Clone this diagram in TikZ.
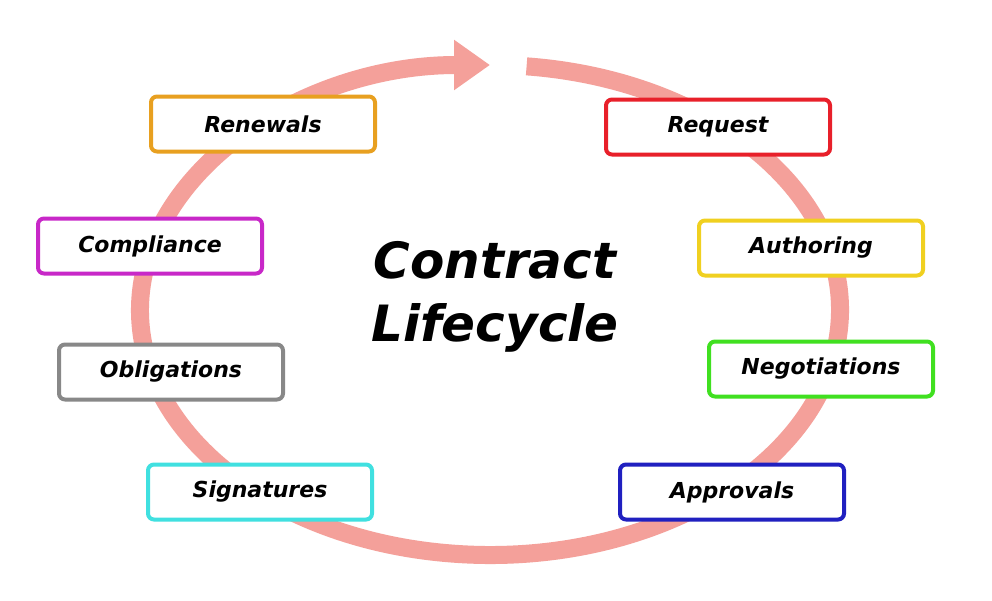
\documentclass[tikz,border=0pt]{standalone}
\usepackage{fontspec}
\setmainfont{DejaVu Sans}
\usetikzlibrary{arrows.meta}
\definecolor{ring}{HTML}{F4A09A}
\begin{document}
\begin{tikzpicture}[x=1pt,y=-1pt,
  lab/.style={draw, line width=4pt, rounded corners=6pt, fill=white, minimum width=224pt, minimum height=55pt, font=\fontsize{22}{26}\selectfont\bfseries\itshape},
  ttl/.style={font=\fontsize{50}{58}\selectfont\bfseries\itshape}]
\useasboundingbox (0,0) rectangle (992,600);
\fill[white] (0,0) rectangle (992,600);
\draw[ring, line width=18pt, -{Triangle[width=48pt,length=36pt]}] (490,310) ++(-84:350 and 245) arc[start angle=-84, end angle=270, x radius=350, y radius=245];
\node[lab, draw={rgb,255:red,232;green,160;blue,32}] (ren) at (263,124) {Renewals};
\node[lab, draw={rgb,255:red,232;green,32;blue,42}] (req) at (718,127) {Request};
\node[lab, draw={rgb,255:red,200;green,40;blue,200}] (com) at (150,246) {Compliance};
\node[lab, draw={rgb,255:red,240;green,208;blue,32}] (aut) at (811,248) {Authoring};
\node[lab, draw={rgb,255:red,136;green,136;blue,136}] (obl) at (171,372) {Obligations};
\node[lab, draw={rgb,255:red,64;green,224;blue,32}] (neg) at (821,369) {Negotiations};
\node[lab, draw={rgb,255:red,64;green,224;blue,224}] (sig) at (260,492) {Signatures};
\node[lab, draw={rgb,255:red,32;green,32;blue,192}] (app) at (732,492) {Approvals};
\node[ttl] (t1) at (495,260) {Contract};
\node[ttl] (t2) at (495,328) {Lifecycle};
\end{tikzpicture}
\end{document}
